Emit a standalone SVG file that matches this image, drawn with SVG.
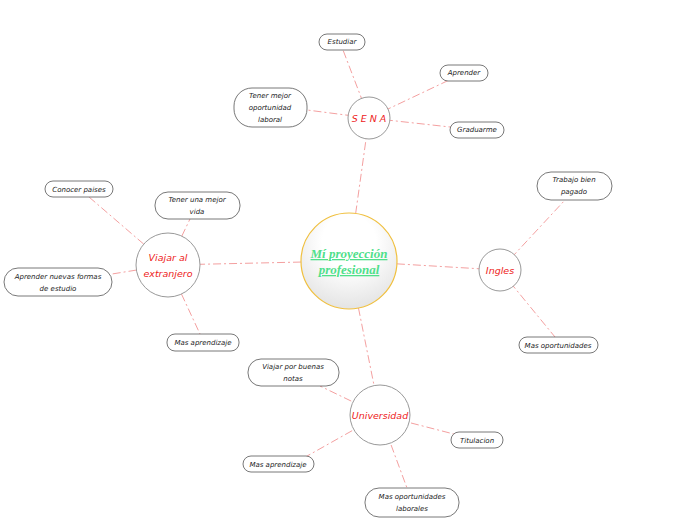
<svg xmlns="http://www.w3.org/2000/svg" width="697" height="520" viewBox="0 0 697 520">
<defs>
<radialGradient id="g" cx="50%" cy="30%" r="70%"><stop offset="0.4" stop-color="#ffffff"/><stop offset="1" stop-color="#e4e4e4"/></radialGradient>
<style>
.c{stroke:#f4a0a0;stroke-width:1;stroke-dasharray:8 3 2 3;fill:none}
.b{fill:#fff;stroke:#555;stroke-width:0.8}
.s{fill:#fff;stroke:#999;stroke-width:1}
text{font-family:"DejaVu Sans",sans-serif;font-style:italic;text-anchor:middle}
.t{font-size:7px;fill:#222}
.r{font-size:9.5px;fill:#e22}
</style>
</defs>
<rect width="697" height="520" fill="#fff"/>
<g id="connectors">
<line class="c" x1="349" y1="261" x2="369" y2="118"/>
<line class="c" x1="349" y1="261" x2="500" y2="270"/>
<line class="c" x1="349" y1="261" x2="380" y2="415"/>
<line class="c" x1="349" y1="261" x2="168" y2="265"/>
<line class="c" x1="369" y1="118" x2="343" y2="50"/>
<line class="c" x1="369" y1="118" x2="464" y2="73"/>
<line class="c" x1="369" y1="118" x2="477" y2="130"/>
<line class="c" x1="369" y1="118" x2="307" y2="110"/>
<line class="c" x1="500" y1="270" x2="565" y2="200"/>
<line class="c" x1="500" y1="270" x2="555" y2="337"/>
<line class="c" x1="380" y1="415" x2="320" y2="386"/>
<line class="c" x1="380" y1="415" x2="477" y2="440"/>
<line class="c" x1="380" y1="415" x2="300" y2="460"/>
<line class="c" x1="380" y1="415" x2="407" y2="488"/>
<line class="c" x1="168" y1="265" x2="89" y2="197"/>
<line class="c" x1="168" y1="265" x2="190" y2="219"/>
<line class="c" x1="168" y1="265" x2="112" y2="274"/>
<line class="c" x1="168" y1="265" x2="200" y2="334"/>
</g>
<g id="center"><circle cx="349" cy="261" r="48" fill="url(#g)" stroke="#f0c040" stroke-width="1.2"/>
<text x="349" y="258" style="font-family:'Liberation Serif',serif;font-weight:bold;font-size:13px;fill:#4fe08a;text-decoration:underline">Mí proyección</text>
<text x="349" y="274" style="font-family:'Liberation Serif',serif;font-weight:bold;font-size:13px;fill:#4fe08a;text-decoration:underline">profesional</text></g>
<g id="sena"><circle class="s" cx="369" cy="118" r="21"/><text class="r" x="369" y="122">S E N A</text></g>
<g id="ingles"><circle class="s" cx="500" cy="270" r="21"/><text class="r" x="500" y="274">Ingles</text></g>
<g id="universidad"><circle class="s" cx="380" cy="415" r="30"/><text class="r" x="380" y="419">Universidad</text></g>
<g id="viajar"><circle class="s" cx="168" cy="265" r="32"/><text class="r" x="168" y="261">Viajar al</text><text class="r" x="168" y="277">extranjero</text></g>
<g id="estudiar"><rect class="b" x="319" y="34" width="46" height="16" rx="8"/><text class="t" x="342" y="44">Estudiar</text></g>
<g id="aprender"><rect class="b" x="440" y="65" width="48" height="16" rx="8"/><text class="t" x="464" y="75">Aprender</text></g>
<g id="graduarme"><rect class="b" x="450" y="122" width="54" height="16" rx="8"/><text class="t" x="477" y="132">Graduarme</text></g>
<g id="tener-mejor"><rect class="b" x="234" y="88" width="73" height="39" rx="18"/><text class="t" x="270" y="98">Tener mejor</text><text class="t" x="270" y="110">oportunidad</text><text class="t" x="270" y="122">laboral</text></g>
<g id="trabajo"><rect class="b" x="537" y="172" width="75" height="28" rx="14"/><text class="t" x="574" y="182">Trabajo bien</text><text class="t" x="574" y="194">pagado</text></g>
<g id="mas-oport"><rect class="b" x="519" y="337" width="79" height="16" rx="8"/><text class="t" x="558" y="348">Mas oportunidades</text></g>
<g id="viajar-notas"><rect class="b" x="248" y="359" width="91" height="27" rx="13"/><text class="t" x="293" y="369">Viajar por buenas</text><text class="t" x="293" y="381">notas</text></g>
<g id="titulacion"><rect class="b" x="451" y="432" width="52" height="16" rx="8"/><text class="t" x="477" y="443">Titulacion</text></g>
<g id="mas-aprend-u"><rect class="b" x="243" y="456" width="71" height="16" rx="8"/><text class="t" x="278" y="467">Mas aprendizaje</text></g>
<g id="mas-oport-lab"><rect class="b" x="365" y="488" width="94" height="29" rx="14"/><text class="t" x="412" y="499">Mas oportunidades</text><text class="t" x="412" y="511">laborales</text></g>
<g id="conocer"><rect class="b" x="45" y="181" width="68" height="16" rx="8"/><text class="t" x="79" y="192">Conocer paises</text></g>
<g id="tener-vida"><rect class="b" x="155" y="192" width="85" height="27" rx="13"/><text class="t" x="197" y="202">Tener una mejor</text><text class="t" x="197" y="214">vida</text></g>
<g id="aprender-nuevas"><rect class="b" x="4" y="268" width="108" height="28" rx="14"/><text class="t" x="58" y="279">Aprender nuevas formas</text><text class="t" x="58" y="291">de estudio</text></g>
<g id="mas-aprend-v"><rect class="b" x="167" y="334" width="72" height="17" rx="8"/><text class="t" x="203" y="345">Mas aprendizaje</text></g>
</svg>
